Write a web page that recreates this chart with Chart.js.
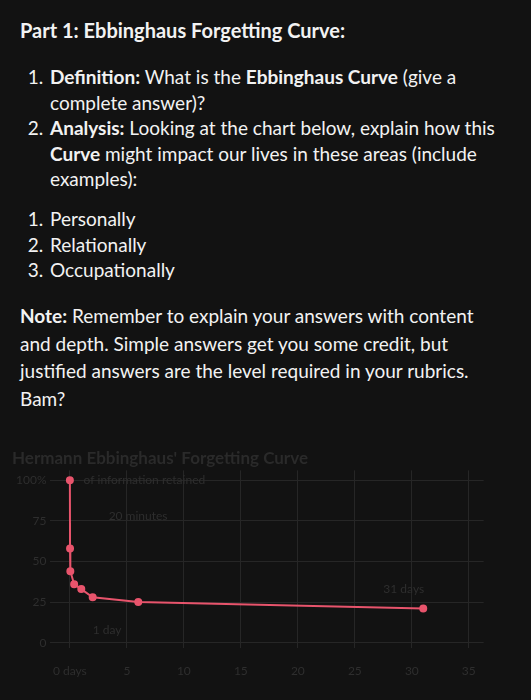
<!DOCTYPE html>
<html>
<head>
<meta charset="utf-8">
<script src="https://cdn.jsdelivr.net/npm/chart.js@4"></script>
<style>
  body { margin: 0; background: #121212; color: #f2f2f2; font-family: Lato, sans-serif; width: 531px; height: 700px; overflow: hidden; position: relative; }
  h2 { position: absolute; left: 20px; top: 18px; margin: 0; font-size: 20px; font-weight: bold; }
  .txt { position: absolute; font-size: 19px; line-height: 25.5px; }
  ol { margin: 0; padding-left: 48px; }
  li { padding-left: 2px; }
  #wrap { position: absolute; left: 12px; top: 448px; width: 480px; height: 246px; }
</style>
</head>
<body>
<h2>Part 1: Ebbinghaus Forgetting Curve:</h2>
<div class="txt" style="top:64px; left:0; width:505px;">
  <ol>
    <li><b>Definition:</b> What is the <b>Ebbinghaus Curve</b> (give a complete answer)?</li>
    <li><b>Analysis:</b> Looking at the chart below, explain how this <b>Curve</b> might impact our lives in these areas (include examples):</li>
  </ol>
</div>
<div class="txt" style="top:206px; left:0;">
  <ol>
    <li>Personally</li>
    <li>Relationally</li>
    <li>Occupationally</li>
  </ol>
</div>
<div class="txt" style="top:302px; left:20px; width:482px; line-height:27.5px;">
  <b>Note:</b> Remember to explain your answers with content and depth. Simple answers get you some credit, but justified answers are the level required in your rubrics. Bam?
</div>
<div id="wrap"><canvas id="chart"></canvas></div>
<script>
const days = [0, 0.014, 0.04, 0.375, 1, 2, 6, 31];
const retained = [100, 58, 44, 36, 33, 28, 25, 21];
const xTicks = [0, 5, 10, 15, 20, 25, 30, 35];
const yTicks = [0, 25, 50, 75, 100];
const notes = [
  { text: '20 minutes', x: 3.4, y: 78 },
  { text: '1 day', x: 2, y: 8 },
  { text: '31 days', x: 27.5, y: 33 },
  { text: 'of information retained', x: 1.2, y: 100 }
];

const dim = '#2e2e2e';

const notePlugin = {
  id: 'notes',
  afterDraw(chart) {
    const ctx = chart.ctx, xs = chart.scales.x, ys = chart.scales.y;
    ctx.save();
    ctx.fillStyle = dim;
    ctx.font = '12px Lato, sans-serif';
    ctx.textBaseline = 'middle';
    notes.forEach(n => ctx.fillText(n.text, xs.getPixelForValue(n.x), ys.getPixelForValue(n.y)));
    ctx.restore();
  }
};

new Chart(document.getElementById('chart'), {
  type: 'line',
  data: {
    datasets: [{
      data: days.map((d, i) => ({ x: d, y: retained[i] })),
      borderColor: '#e8546c',
      backgroundColor: '#e8546c',
      borderWidth: 2,
      pointRadius: 3,
      tension: 0
    }]
  },
  options: {
    responsive: true,
    maintainAspectRatio: false,
    animation: false,
    plugins: {
      legend: { display: false },
      title: {
        display: true,
        text: "Hermann Ebbinghaus' Forgetting Curve",
        align: 'start',
        color: '#2a2a2a',
        font: { family: 'Lato, sans-serif', size: 17, weight: 'bold' },
        padding: { top: 0, bottom: 2 }
      }
    },
    scales: {
      x: {
        type: 'linear', min: -1.7, max: 36.3,
        afterBuildTicks: s => { s.ticks = xTicks.map(v => ({ value: v })); },
        grid: { color: '#262626', drawTicks: false },
        border: { display: false },
        ticks: { color: dim, padding: 16, font: { family: 'Lato, sans-serif', size: 12 },
                 callback: v => v === 0 ? '0 days' : v }
      },
      y: {
        min: -3, max: 106,
        afterBuildTicks: s => { s.ticks = yTicks.map(v => ({ value: v })); },
        grid: { color: '#262626', drawTicks: false },
        border: { display: false },
        ticks: { color: dim, padding: 4, font: { family: 'Lato, sans-serif', size: 12 },
                 callback: v => v === 100 ? '100%' : v }
      }
    }
  },
  plugins: [notePlugin]
});
</script>
</body>
</html>
